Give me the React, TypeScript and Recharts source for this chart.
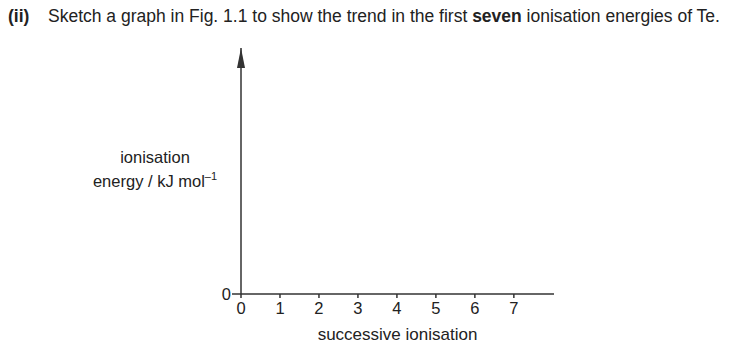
import React from "react";
import {
  LineChart,
  Line,
  XAxis,
  YAxis,
  ReferenceDot,
  Label,
} from "recharts";

const xTicks = [0, 1, 2, 3, 4, 5, 6, 7];
const yTicks = [0];
const xMax = 8.03;
const yMax = 100;
// empty sketch grid: no values plotted yet
const energies: (number | null)[] = [null, null, null, null, null, null, null, null];

const FONT = "'Liberation Sans', Arial, sans-serif";
const INK = "#333";

const chartData = xTicks.map((n, i) => ({ n, energy: energies[i] }));

const ArrowHead = (props: any) => {
  const { cx, cy } = props;
  if (cx == null || cy == null) return <g />;
  return (
    <path
      d={`M${cx},${cy} L${cx - 4},${cy + 20} L${cx + 4},${cy + 20} Z`}
      fill={INK}
    />
  );
};

const App: React.FC = () => {
  return (
    <div
      style={{
        position: "absolute",
        left: 0,
        top: 0,
        width: 749,
        height: 361,
        background: "#fff",
        fontFamily: FONT,
        color: "#222",
      }}
    >
      <div style={{ position: "absolute", left: 8, top: 6, fontSize: 17.5, whiteSpace: "nowrap" }}>
        <b>(ii)</b>
        <span style={{ position: "absolute", left: 40 }}>
          Sketch a graph in Fig. 1.1 to show the trend in the first <b>seven</b> ionisation energies of Te.
        </span>
      </div>
      <div
        style={{
          position: "absolute",
          left: 80,
          top: 145,
          width: 150,
          textAlign: "center",
          fontSize: 16.5,
          lineHeight: "24px",
        }}
      >
        ionisation
        <br />
        energy / kJ mol
        <span style={{ fontSize: 11, position: "relative", top: -7 }}>–1</span>
      </div>
      <LineChart
        width={749}
        height={361}
        data={chartData}
        margin={{ top: 48, right: 195, left: 181, bottom: 17 }}
        style={{ position: "absolute", left: 0, top: 0 }}
      >
        <XAxis
          dataKey="n"
          type="number"
          domain={[0, xMax]}
          ticks={xTicks}
          allowDataOverflow
          height={50}
          stroke={INK}
          strokeWidth={1.5}
          tickSize={4}
          tickMargin={4}
          tick={{ fill: "#222", fontSize: 16.5, fontFamily: FONT }}
        >
          <Label
            value="successive ionisation"
            position="insideBottom"
            offset={4}
            style={{ fill: "#222", fontSize: 17, fontFamily: FONT }}
          />
        </XAxis>
        <YAxis
          type="number"
          domain={[0, yMax]}
          ticks={yTicks}
          allowDataOverflow
          interval={0}
          width={60}
          stroke={INK}
          strokeWidth={1.5}
          tickSize={9}
          tickMargin={1}
          tick={{ fill: "#222", fontSize: 16.5, fontFamily: FONT }}
        />
        <Line
          dataKey="energy"
          stroke={INK}
          dot={false}
          isAnimationActive={false}
        />
        <ReferenceDot x={0} y={yMax} r={4} shape={ArrowHead} ifOverflow="visible" />
      </LineChart>
    </div>
  );
};

export default App;
